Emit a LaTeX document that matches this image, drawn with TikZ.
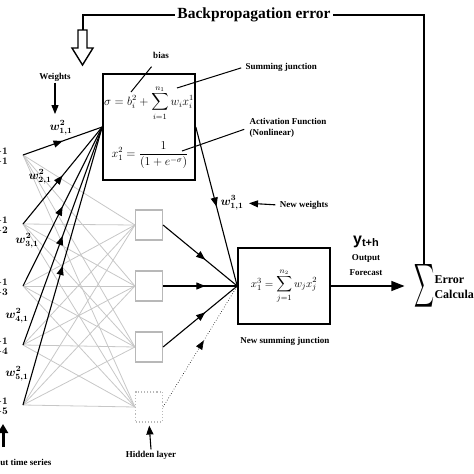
\documentclass[tikz,border=0pt]{standalone}
\usepackage{amsmath}
\usepackage{fontspec}
\setmainfont{Liberation Serif}
\setsansfont{Liberation Sans}
\usetikzlibrary{arrows.meta,decorations.markings,positioning}

\tikzset{
    lbl/.style={font=\bfseries\fontsize{9}{11}\selectfont, inner sep=1pt},
    wlbl/.style={font=\boldmath\fontsize{12}{13}\selectfont, inner sep=0pt},
    xlbl/.style={font=\boldmath\fontsize{14}{15}\selectfont, inner sep=0pt},
    hid/.style={draw=black!28, line width=1.1pt, minimum width=27pt, minimum height=30pt, inner sep=0pt},
    box/.style={draw, line width=1.6pt, inner sep=0pt},
    grayline/.style={draw=black!22, line width=0.8pt},
    pointer/.style={line width=1pt},
    midarrow/.style={postaction={decorate}, decoration={markings,
        mark=at position #1 with {\arrow{Triangle[length=9pt,width=7pt]}}}},
    tip/.style={-{Triangle[length=9pt,width=7pt]}}
}

\begin{document}
\begin{tikzpicture}[x=1pt, y=-1pt, line width=1.1pt]
    \useasboundingbox (0,0) rectangle (474,474);
    % inputs and hidden layer
    \foreach \i/\yy in {1/155, 2/224, 3/286, 4/345, 5/405}
        \coordinate (in\i) at (23,\yy);
    \node[hid] (h1) at (149,225) {};
    \node[hid] (h2) at (149,286) {};
    \node[hid] (h3) at (149,347) {};
    \node[hid, dotted] (h4) at (149,407) {};
    \foreach \i in {1,...,5}
        \foreach \j in {1,...,4}
            \draw[grayline] (in\i) -- (h\j.west);
    \foreach \i in {1,...,5}
        \node[xlbl, left=14pt of in\i, yshift=-2pt] (x\i) {$x^{t-1}_{t-\i}$};

    % summing junction boxes
    \node[box, minimum width=92pt, minimum height=106pt] (sum1) at (149,127) {};
    \node[font=\fontsize{12}{14}\selectfont, inner sep=0pt] (eqa) at (149,103)
        {$\sigma = b_i^2 + \displaystyle\sum_{i=1}^{n_1} w_i x_i^1$};
    \node[font=\fontsize{12}{14}\selectfont, inner sep=0pt] (eqb) at (150,155)
        {$x_1^2 = \dfrac{1}{(1+e^{-\sigma})}$};
    \node[box, minimum width=92pt, minimum height=76pt, font=\fontsize{11}{13}\selectfont] (sum2) at (284,286)
        {$x_1^3 = \displaystyle\sum_{j=1}^{n_2} w_j x_j^2$};

    \foreach \i in {1,...,5}
        \draw[midarrow=0.5] (in\i) -- (sum1.west);
    \foreach \j in {1,2,3}
        \draw[midarrow=0.57] (h\j.east) -- (sum2.west);
    \draw[midarrow=0.55, line width=0.6pt, dotted] (h4.east) -- (sum2.west);
    \draw[midarrow=0.5] (sum1.east) -- (sum2.west);

    % weights
    \node[wlbl] (w11) at (61,128) {$w^2_{1,1}$};
    \node[wlbl] (w21) at (40,177) {$w^2_{2,1}$};
    \node[wlbl] (w31) at (27,241) {$w^2_{3,1}$};
    \node[wlbl] (w41) at (17,316) {$w^2_{4,1}$};
    \node[wlbl] (w51) at (17,374) {$w^2_{5,1}$};
    \node[wlbl] (w311) at (232,203) {$w^3_{1,1}$};
    \node[lbl] (wt) at (55,77) {Weights};
    \draw[tip, shorten >=6pt] (wt.south) -- (wt.south |- w11.north);
    \node[lbl] (nw) at (304,205) {New weights};
    \draw[tip, shorten >=5pt, shorten <=3pt] (nw.west) -- (w311.east);

    % notes on the first box
    \node[lbl] (bias) at (161,55) {bias};
    \coordinate (bterm) at (131,92);
    \draw[pointer, shorten <=9pt] (bias) -- (bterm);
    \node[lbl, anchor=west] (sj) at (244,67) {Summing junction};
    \coordinate (sigpt) at (177,88);
    \draw[pointer, shorten >=3pt] (sigpt) -- (sj.west);
    \node[lbl, anchor=west, align=left] (act) at (248,128) {Activation Function\\(Nonlinear)};
    \coordinate (fracpt) at (182,151);
    \draw[pointer, shorten >=4pt] (fracpt) -- (act.west);

    % output and error
    \node[inner sep=0pt] (err) at (424,286) {\resizebox{20pt}{32pt}{$\displaystyle\sum$}};
    \node[lbl, anchor=west, align=left, font=\bfseries\fontsize{12}{15}\selectfont] (errtxt) at (433,287)
        {Error\\Calculation};
    \draw[-{Triangle[length=13pt,width=10pt]}, shorten >=9pt] (sum2.east) -- (err.west);
    \node[font=\sffamily\bfseries\fontsize{16}{16}\selectfont, inner sep=0pt] (yth) at (366,242)
        {y\raisebox{-2pt}{\fontsize{11}{11}\selectfont t+h}};
    \node[lbl] (outp) at (366,258) {Output};
    \node[lbl] (fore) at (366,273) {Forecast};

    % backpropagation path
    \node[font=\bfseries\fontsize{15.5}{17}\selectfont, inner sep=2pt] (bp) at (254,15) {Backpropagation error};
    \coordinate (holtop) at (82.5,30);
    \draw[line width=2pt] (bp.east) -| ([yshift=-4pt]err.north);
    \draw[line width=2pt] (bp.west) -| (holtop);
    \draw[line width=1.4pt, fill=white, shift={(holtop)}]
        (-4.5,0) -- (4.5,0) -- (4.5,18) -- (10.5,18) -- (0,35) -- (-10.5,18) -- (-4.5,18) -- cycle;

    % bottom labels
    \node[lbl] (hl) at (151,455) {Hidden layer};
    \draw[tip, shorten >=3pt] (hl.north) -- (h4.south);
    \node[lbl] (nsj) at (285,341) {New summing junction};
    \node[lbl, anchor=east] (its) at (53,463) {Input time series};
    \coordinate (itsbot) at (3,447);
    \coordinate (itstop) at (3,424);
    \draw[line width=3pt, -{Triangle[length=9pt,width=10pt]}] (itsbot) -- (itstop);
\end{tikzpicture}
\end{document}
